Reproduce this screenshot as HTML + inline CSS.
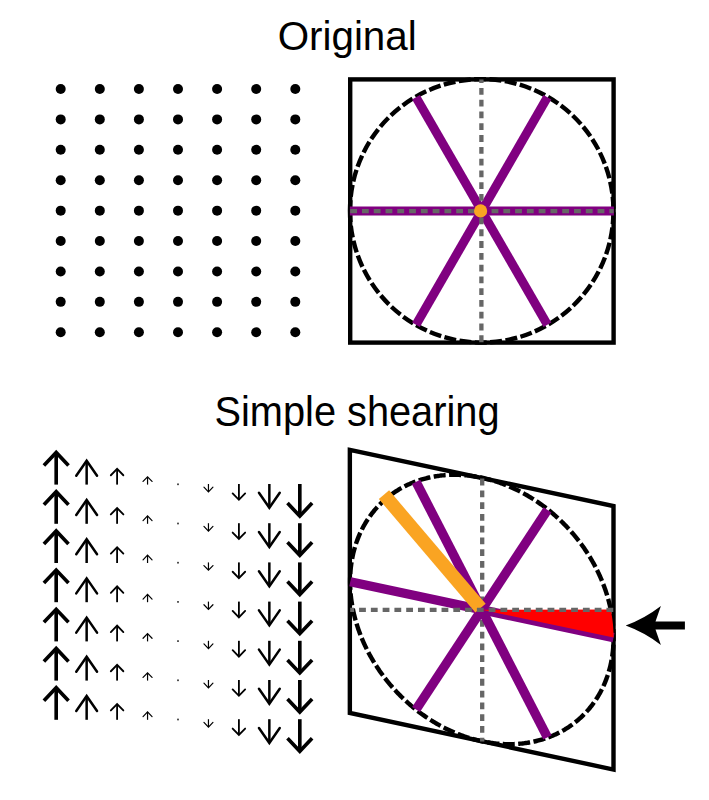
<!DOCTYPE html>
<html><head><meta charset="utf-8"><style>
html,body{margin:0;padding:0;background:#fff;}
body{width:709px;height:800px;overflow:hidden;position:relative;font-family:"Liberation Sans",sans-serif;}
svg{position:absolute;left:0;top:0;display:block;}
text{font-family:"Liberation Sans",sans-serif;}
</style></head><body>
<svg width="709" height="800" viewBox="0 0 709 800">
<text x="347.2" y="49.7" font-size="40" text-anchor="middle" fill="#000" textLength="139" lengthAdjust="spacingAndGlyphs">Original</text>
<text x="357" y="425.8" font-size="43" text-anchor="middle" fill="#000" textLength="285" lengthAdjust="spacingAndGlyphs">Simple shearing</text>
<g fill="#000"><circle cx="60.70" cy="89.00" r="5"/><circle cx="99.80" cy="89.00" r="5"/><circle cx="138.90" cy="89.00" r="5"/><circle cx="178.00" cy="89.00" r="5"/><circle cx="217.10" cy="89.00" r="5"/><circle cx="256.20" cy="89.00" r="5"/><circle cx="295.30" cy="89.00" r="5"/><circle cx="60.70" cy="119.41" r="5"/><circle cx="99.80" cy="119.41" r="5"/><circle cx="138.90" cy="119.41" r="5"/><circle cx="178.00" cy="119.41" r="5"/><circle cx="217.10" cy="119.41" r="5"/><circle cx="256.20" cy="119.41" r="5"/><circle cx="295.30" cy="119.41" r="5"/><circle cx="60.70" cy="149.82" r="5"/><circle cx="99.80" cy="149.82" r="5"/><circle cx="138.90" cy="149.82" r="5"/><circle cx="178.00" cy="149.82" r="5"/><circle cx="217.10" cy="149.82" r="5"/><circle cx="256.20" cy="149.82" r="5"/><circle cx="295.30" cy="149.82" r="5"/><circle cx="60.70" cy="180.23" r="5"/><circle cx="99.80" cy="180.23" r="5"/><circle cx="138.90" cy="180.23" r="5"/><circle cx="178.00" cy="180.23" r="5"/><circle cx="217.10" cy="180.23" r="5"/><circle cx="256.20" cy="180.23" r="5"/><circle cx="295.30" cy="180.23" r="5"/><circle cx="60.70" cy="210.64" r="5"/><circle cx="99.80" cy="210.64" r="5"/><circle cx="138.90" cy="210.64" r="5"/><circle cx="178.00" cy="210.64" r="5"/><circle cx="217.10" cy="210.64" r="5"/><circle cx="256.20" cy="210.64" r="5"/><circle cx="295.30" cy="210.64" r="5"/><circle cx="60.70" cy="241.05" r="5"/><circle cx="99.80" cy="241.05" r="5"/><circle cx="138.90" cy="241.05" r="5"/><circle cx="178.00" cy="241.05" r="5"/><circle cx="217.10" cy="241.05" r="5"/><circle cx="256.20" cy="241.05" r="5"/><circle cx="295.30" cy="241.05" r="5"/><circle cx="60.70" cy="271.46" r="5"/><circle cx="99.80" cy="271.46" r="5"/><circle cx="138.90" cy="271.46" r="5"/><circle cx="178.00" cy="271.46" r="5"/><circle cx="217.10" cy="271.46" r="5"/><circle cx="256.20" cy="271.46" r="5"/><circle cx="295.30" cy="271.46" r="5"/><circle cx="60.70" cy="301.87" r="5"/><circle cx="99.80" cy="301.87" r="5"/><circle cx="138.90" cy="301.87" r="5"/><circle cx="178.00" cy="301.87" r="5"/><circle cx="217.10" cy="301.87" r="5"/><circle cx="256.20" cy="301.87" r="5"/><circle cx="295.30" cy="301.87" r="5"/><circle cx="60.70" cy="332.28" r="5"/><circle cx="99.80" cy="332.28" r="5"/><circle cx="138.90" cy="332.28" r="5"/><circle cx="178.00" cy="332.28" r="5"/><circle cx="217.10" cy="332.28" r="5"/><circle cx="256.20" cy="332.28" r="5"/><circle cx="295.30" cy="332.28" r="5"/></g>
<g fill="none" stroke="#000"><path d="M56.20,484.60L56.20,453.96" stroke-width="3.66"/><path d="M43.90,465.50L56.20,452.50L68.50,465.50" stroke-width="3.66" stroke-linecap="butt" stroke-linejoin="miter"/><path d="M86.65,484.60L86.65,461.80" stroke-width="2.5"/><path d="M76.25,475.80L86.65,460.80L97.05,475.80" stroke-width="2.5" stroke-linecap="round" stroke-linejoin="miter"/><path d="M117.10,484.60L117.10,469.53" stroke-width="1.83"/><path d="M110.85,475.25L117.10,468.80L123.35,475.25" stroke-width="1.83" stroke-linecap="round" stroke-linejoin="miter"/><path d="M147.55,484.60L147.55,477.23" stroke-width="1.2"/><path d="M143.05,481.45L147.55,476.75L152.05,481.45" stroke-width="1.2" stroke-linecap="round" stroke-linejoin="miter"/><rect x="177.15" y="483.45" width="1.7" height="1.7" fill="#333" stroke="none"/><path d="M208.45,484.00L208.45,491.37" stroke-width="1.2"/><path d="M203.95,487.15L208.45,491.85L212.95,487.15" stroke-width="1.2" stroke-linecap="round" stroke-linejoin="miter"/><path d="M238.90,484.00L238.90,499.07" stroke-width="1.83"/><path d="M232.65,493.35L238.90,499.80L245.15,493.35" stroke-width="1.83" stroke-linecap="round" stroke-linejoin="miter"/><path d="M269.35,484.00L269.35,506.80" stroke-width="2.5"/><path d="M258.95,492.80L269.35,507.80L279.75,492.80" stroke-width="2.5" stroke-linecap="round" stroke-linejoin="miter"/><path d="M299.80,484.00L299.80,514.64" stroke-width="3.66"/><path d="M287.50,503.10L299.80,516.10L312.10,503.10" stroke-width="3.66" stroke-linecap="butt" stroke-linejoin="miter"/><path d="M56.20,523.80L56.20,493.16" stroke-width="3.66"/><path d="M43.90,504.70L56.20,491.70L68.50,504.70" stroke-width="3.66" stroke-linecap="butt" stroke-linejoin="miter"/><path d="M86.65,523.80L86.65,501.00" stroke-width="2.5"/><path d="M76.25,515.00L86.65,500.00L97.05,515.00" stroke-width="2.5" stroke-linecap="round" stroke-linejoin="miter"/><path d="M117.10,523.80L117.10,508.73" stroke-width="1.83"/><path d="M110.85,514.45L117.10,508.00L123.35,514.45" stroke-width="1.83" stroke-linecap="round" stroke-linejoin="miter"/><path d="M147.55,523.80L147.55,516.43" stroke-width="1.2"/><path d="M143.05,520.65L147.55,515.95L152.05,520.65" stroke-width="1.2" stroke-linecap="round" stroke-linejoin="miter"/><rect x="177.15" y="522.65" width="1.7" height="1.7" fill="#333" stroke="none"/><path d="M208.45,523.20L208.45,530.57" stroke-width="1.2"/><path d="M203.95,526.35L208.45,531.05L212.95,526.35" stroke-width="1.2" stroke-linecap="round" stroke-linejoin="miter"/><path d="M238.90,523.20L238.90,538.27" stroke-width="1.83"/><path d="M232.65,532.55L238.90,539.00L245.15,532.55" stroke-width="1.83" stroke-linecap="round" stroke-linejoin="miter"/><path d="M269.35,523.20L269.35,546.00" stroke-width="2.5"/><path d="M258.95,532.00L269.35,547.00L279.75,532.00" stroke-width="2.5" stroke-linecap="round" stroke-linejoin="miter"/><path d="M299.80,523.20L299.80,553.84" stroke-width="3.66"/><path d="M287.50,542.30L299.80,555.30L312.10,542.30" stroke-width="3.66" stroke-linecap="butt" stroke-linejoin="miter"/><path d="M56.20,563.00L56.20,532.36" stroke-width="3.66"/><path d="M43.90,543.90L56.20,530.90L68.50,543.90" stroke-width="3.66" stroke-linecap="butt" stroke-linejoin="miter"/><path d="M86.65,563.00L86.65,540.20" stroke-width="2.5"/><path d="M76.25,554.20L86.65,539.20L97.05,554.20" stroke-width="2.5" stroke-linecap="round" stroke-linejoin="miter"/><path d="M117.10,563.00L117.10,547.93" stroke-width="1.83"/><path d="M110.85,553.65L117.10,547.20L123.35,553.65" stroke-width="1.83" stroke-linecap="round" stroke-linejoin="miter"/><path d="M147.55,563.00L147.55,555.63" stroke-width="1.2"/><path d="M143.05,559.85L147.55,555.15L152.05,559.85" stroke-width="1.2" stroke-linecap="round" stroke-linejoin="miter"/><rect x="177.15" y="561.85" width="1.7" height="1.7" fill="#333" stroke="none"/><path d="M208.45,562.40L208.45,569.77" stroke-width="1.2"/><path d="M203.95,565.55L208.45,570.25L212.95,565.55" stroke-width="1.2" stroke-linecap="round" stroke-linejoin="miter"/><path d="M238.90,562.40L238.90,577.47" stroke-width="1.83"/><path d="M232.65,571.75L238.90,578.20L245.15,571.75" stroke-width="1.83" stroke-linecap="round" stroke-linejoin="miter"/><path d="M269.35,562.40L269.35,585.20" stroke-width="2.5"/><path d="M258.95,571.20L269.35,586.20L279.75,571.20" stroke-width="2.5" stroke-linecap="round" stroke-linejoin="miter"/><path d="M299.80,562.40L299.80,593.04" stroke-width="3.66"/><path d="M287.50,581.50L299.80,594.50L312.10,581.50" stroke-width="3.66" stroke-linecap="butt" stroke-linejoin="miter"/><path d="M56.20,602.20L56.20,571.56" stroke-width="3.66"/><path d="M43.90,583.10L56.20,570.10L68.50,583.10" stroke-width="3.66" stroke-linecap="butt" stroke-linejoin="miter"/><path d="M86.65,602.20L86.65,579.40" stroke-width="2.5"/><path d="M76.25,593.40L86.65,578.40L97.05,593.40" stroke-width="2.5" stroke-linecap="round" stroke-linejoin="miter"/><path d="M117.10,602.20L117.10,587.13" stroke-width="1.83"/><path d="M110.85,592.85L117.10,586.40L123.35,592.85" stroke-width="1.83" stroke-linecap="round" stroke-linejoin="miter"/><path d="M147.55,602.20L147.55,594.83" stroke-width="1.2"/><path d="M143.05,599.05L147.55,594.35L152.05,599.05" stroke-width="1.2" stroke-linecap="round" stroke-linejoin="miter"/><rect x="177.15" y="601.05" width="1.7" height="1.7" fill="#333" stroke="none"/><path d="M208.45,601.60L208.45,608.97" stroke-width="1.2"/><path d="M203.95,604.75L208.45,609.45L212.95,604.75" stroke-width="1.2" stroke-linecap="round" stroke-linejoin="miter"/><path d="M238.90,601.60L238.90,616.67" stroke-width="1.83"/><path d="M232.65,610.95L238.90,617.40L245.15,610.95" stroke-width="1.83" stroke-linecap="round" stroke-linejoin="miter"/><path d="M269.35,601.60L269.35,624.40" stroke-width="2.5"/><path d="M258.95,610.40L269.35,625.40L279.75,610.40" stroke-width="2.5" stroke-linecap="round" stroke-linejoin="miter"/><path d="M299.80,601.60L299.80,632.24" stroke-width="3.66"/><path d="M287.50,620.70L299.80,633.70L312.10,620.70" stroke-width="3.66" stroke-linecap="butt" stroke-linejoin="miter"/><path d="M56.20,641.40L56.20,610.76" stroke-width="3.66"/><path d="M43.90,622.30L56.20,609.30L68.50,622.30" stroke-width="3.66" stroke-linecap="butt" stroke-linejoin="miter"/><path d="M86.65,641.40L86.65,618.60" stroke-width="2.5"/><path d="M76.25,632.60L86.65,617.60L97.05,632.60" stroke-width="2.5" stroke-linecap="round" stroke-linejoin="miter"/><path d="M117.10,641.40L117.10,626.33" stroke-width="1.83"/><path d="M110.85,632.05L117.10,625.60L123.35,632.05" stroke-width="1.83" stroke-linecap="round" stroke-linejoin="miter"/><path d="M147.55,641.40L147.55,634.03" stroke-width="1.2"/><path d="M143.05,638.25L147.55,633.55L152.05,638.25" stroke-width="1.2" stroke-linecap="round" stroke-linejoin="miter"/><rect x="177.15" y="640.25" width="1.7" height="1.7" fill="#333" stroke="none"/><path d="M208.45,640.80L208.45,648.17" stroke-width="1.2"/><path d="M203.95,643.95L208.45,648.65L212.95,643.95" stroke-width="1.2" stroke-linecap="round" stroke-linejoin="miter"/><path d="M238.90,640.80L238.90,655.87" stroke-width="1.83"/><path d="M232.65,650.15L238.90,656.60L245.15,650.15" stroke-width="1.83" stroke-linecap="round" stroke-linejoin="miter"/><path d="M269.35,640.80L269.35,663.60" stroke-width="2.5"/><path d="M258.95,649.60L269.35,664.60L279.75,649.60" stroke-width="2.5" stroke-linecap="round" stroke-linejoin="miter"/><path d="M299.80,640.80L299.80,671.44" stroke-width="3.66"/><path d="M287.50,659.90L299.80,672.90L312.10,659.90" stroke-width="3.66" stroke-linecap="butt" stroke-linejoin="miter"/><path d="M56.20,680.60L56.20,649.96" stroke-width="3.66"/><path d="M43.90,661.50L56.20,648.50L68.50,661.50" stroke-width="3.66" stroke-linecap="butt" stroke-linejoin="miter"/><path d="M86.65,680.60L86.65,657.80" stroke-width="2.5"/><path d="M76.25,671.80L86.65,656.80L97.05,671.80" stroke-width="2.5" stroke-linecap="round" stroke-linejoin="miter"/><path d="M117.10,680.60L117.10,665.53" stroke-width="1.83"/><path d="M110.85,671.25L117.10,664.80L123.35,671.25" stroke-width="1.83" stroke-linecap="round" stroke-linejoin="miter"/><path d="M147.55,680.60L147.55,673.23" stroke-width="1.2"/><path d="M143.05,677.45L147.55,672.75L152.05,677.45" stroke-width="1.2" stroke-linecap="round" stroke-linejoin="miter"/><rect x="177.15" y="679.45" width="1.7" height="1.7" fill="#333" stroke="none"/><path d="M208.45,680.00L208.45,687.37" stroke-width="1.2"/><path d="M203.95,683.15L208.45,687.85L212.95,683.15" stroke-width="1.2" stroke-linecap="round" stroke-linejoin="miter"/><path d="M238.90,680.00L238.90,695.07" stroke-width="1.83"/><path d="M232.65,689.35L238.90,695.80L245.15,689.35" stroke-width="1.83" stroke-linecap="round" stroke-linejoin="miter"/><path d="M269.35,680.00L269.35,702.80" stroke-width="2.5"/><path d="M258.95,688.80L269.35,703.80L279.75,688.80" stroke-width="2.5" stroke-linecap="round" stroke-linejoin="miter"/><path d="M299.80,680.00L299.80,710.64" stroke-width="3.66"/><path d="M287.50,699.10L299.80,712.10L312.10,699.10" stroke-width="3.66" stroke-linecap="butt" stroke-linejoin="miter"/><path d="M56.20,719.80L56.20,689.16" stroke-width="3.66"/><path d="M43.90,700.70L56.20,687.70L68.50,700.70" stroke-width="3.66" stroke-linecap="butt" stroke-linejoin="miter"/><path d="M86.65,719.80L86.65,697.00" stroke-width="2.5"/><path d="M76.25,711.00L86.65,696.00L97.05,711.00" stroke-width="2.5" stroke-linecap="round" stroke-linejoin="miter"/><path d="M117.10,719.80L117.10,704.73" stroke-width="1.83"/><path d="M110.85,710.45L117.10,704.00L123.35,710.45" stroke-width="1.83" stroke-linecap="round" stroke-linejoin="miter"/><path d="M147.55,719.80L147.55,712.43" stroke-width="1.2"/><path d="M143.05,716.65L147.55,711.95L152.05,716.65" stroke-width="1.2" stroke-linecap="round" stroke-linejoin="miter"/><rect x="177.15" y="718.65" width="1.7" height="1.7" fill="#333" stroke="none"/><path d="M208.45,719.20L208.45,726.57" stroke-width="1.2"/><path d="M203.95,722.35L208.45,727.05L212.95,722.35" stroke-width="1.2" stroke-linecap="round" stroke-linejoin="miter"/><path d="M238.90,719.20L238.90,734.27" stroke-width="1.83"/><path d="M232.65,728.55L238.90,735.00L245.15,728.55" stroke-width="1.83" stroke-linecap="round" stroke-linejoin="miter"/><path d="M269.35,719.20L269.35,742.00" stroke-width="2.5"/><path d="M258.95,728.00L269.35,743.00L279.75,728.00" stroke-width="2.5" stroke-linecap="round" stroke-linejoin="miter"/><path d="M299.80,719.20L299.80,749.84" stroke-width="3.66"/><path d="M287.50,738.30L299.80,751.30L312.10,738.30" stroke-width="3.66" stroke-linecap="butt" stroke-linejoin="miter"/></g>
<rect x="350.2" y="79.4" width="263.4" height="263.2" fill="none" stroke="#000" stroke-width="4.4"/>
<path d="M349.97,210.83A131.75,131.75 0 0 1 613.47,210.83A131.75,131.75 0 0 1 349.97,210.83" fill="none" stroke="#000" stroke-width="4.4" stroke-dasharray="11.99 3.43" stroke-dashoffset="1.22"/>
<g stroke="#800080" stroke-width="9"><line x1="349.9" y1="210.95" x2="613.9" y2="210.95"/><line x1="416.00" y1="97.15" x2="547.40" y2="324.75"/><line x1="547.40" y1="97.15" x2="416.00" y2="324.75"/></g>
<g stroke="#666666" stroke-width="4.3" stroke-dasharray="6.8 4.98"><line x1="481.4" y1="79.6" x2="481.4" y2="342.6" stroke-dashoffset="3.4"/><line x1="350.2" y1="211.05" x2="613.6" y2="211.05"/></g>
<circle cx="480.6" cy="210.9" r="6.6" fill="#faa422"/>
<path d="M349.85,449.9L613.5,506.1L613.5,769.55L349.85,713.0Z" fill="none" stroke="#000" stroke-width="4.4" stroke-linejoin="miter"/>
<path d="M350.09,581.50L350.10,580.35L350.11,579.20L350.14,578.06L350.17,576.91L350.22,575.78L350.27,574.64L350.34,573.50L350.41,572.37L350.50,571.25L350.59,570.12L350.70,569.00L350.81,567.88L350.94,566.76L351.07,565.65L351.22,564.54L351.37,563.43L351.54,562.33L351.71,561.23L351.90,560.13L352.09,559.04L352.30,557.96L352.51,556.87L352.73,555.79L352.97,554.72L353.21,553.64L353.47,552.58L353.73,551.51L354.00,550.45L354.29,549.40L354.58,548.35L354.88,547.31L355.19,546.27L355.52,545.23L355.85,544.20L356.19,543.17L356.54,542.15L356.90,541.14L357.27,540.13L357.65,539.12L358.04,538.12L358.43,537.13L358.84,536.14L359.26,535.16L359.68,534.18L360.12,533.21L360.56,532.24L361.02,531.28L361.48,530.33L361.95,529.38L362.43,528.44L362.92,527.50L363.42,526.57L363.93,525.65L364.45,524.73L364.98,523.82L365.51,522.92L366.06,522.02L366.61,521.13L367.17,520.25L367.74,519.37L368.32,518.50L368.91,517.64L369.50,516.78L370.11,515.93L370.72,515.09L371.35,514.26L371.98,513.43L372.61,512.61L373.26,511.80L373.92,510.99L374.58,510.19L375.25,509.40L375.93,508.62L376.62,507.85L377.32,507.08L378.02,506.32L378.73,505.57L379.45,504.82L380.18,504.09L380.91,503.36L381.66,502.64L382.41,501.93L383.17,501.23L383.93,500.53L384.70,499.84L385.48,499.17L386.27,498.50L387.07,497.83L387.87,497.18L388.68,496.54L389.50,495.90L390.32,495.27L391.15,494.66L391.99,494.05L392.83,493.44L393.68,492.85L394.54,492.27L395.40,491.69L396.28,491.13L397.15,490.57L398.04,490.03L398.93,489.49L399.82,488.96L400.73,488.44L401.64,487.93L402.55,487.43L403.47,486.93L404.40,486.45L405.33,485.98L406.27,485.51L407.22,485.06L408.17,484.61L409.12,484.18L410.08,483.75L411.05,483.34L412.02,482.93L413.00,482.53L413.98,482.14L414.97,481.77L415.96,481.40L416.96,481.04L417.97,480.69L418.97,480.35L419.99,480.02L421.00,479.71L422.03,479.40L423.05,479.10L424.08,478.81L425.12,478.53L426.16,478.26L427.20,478.00L428.25,477.75L429.30,477.51L430.36,477.28L431.42,477.06L432.49,476.85L433.55,476.65L434.63,476.46L435.70,476.29L436.78,476.12L437.86,475.96L438.95,475.81L440.04,475.67L441.13,475.54L442.22,475.43L443.32,475.32L444.42,475.22L445.52,475.13L446.63,475.06L447.74,474.99L448.85,474.93L449.97,474.89L451.08,474.85L452.20,474.83L453.32,474.81L454.45,474.81L455.57,474.81L456.70,474.83L457.83,474.85L458.96,474.89L460.09,474.93L461.23,474.99L462.37,475.06L463.50,475.13L464.64,475.22L465.78,475.32L466.93,475.43L468.07,475.54L469.21,475.67L470.36,475.81L471.50,475.96L472.65,476.12L473.80,476.29L474.94,476.46L476.09,476.65L477.24,476.85L478.39,477.06L479.54,477.28L480.69,477.51L481.84,477.75L482.99,478.00L484.14,478.26L485.29,478.53L486.44,478.81L487.59,479.10L488.74,479.40L489.88,479.71L491.03,480.02L492.18,480.35L493.32,480.69L494.47,481.04L495.61,481.40L496.75,481.77L497.90,482.14L499.04,482.53L500.18,482.93L501.31,483.34L502.45,483.75L503.59,484.18L504.72,484.61L505.85,485.06L506.98,485.51L508.11,485.98L509.23,486.45L510.36,486.93L511.48,487.43L512.60,487.93L513.71,488.44L514.83,488.96L515.94,489.49L517.05,490.03L518.16,490.57L519.26,491.13L520.36,491.69L521.46,492.27L522.55,492.85L523.64,493.44L524.73,494.05L525.82,494.66L526.90,495.27L527.98,495.90L529.05,496.54L530.13,497.18L531.19,497.83L532.26,498.50L533.32,499.17L534.38,499.84L535.43,500.53L536.48,501.23L537.52,501.93L538.56,502.64L539.60,503.36L540.63,504.09L541.65,504.82L542.68,505.57L543.69,506.32L544.71,507.08L545.71,507.85L546.72,508.62L547.71,509.40L548.71,510.19L549.70,510.99L550.68,511.80L551.66,512.61L552.63,513.43L553.60,514.26L554.56,515.09L555.51,515.93L556.46,516.78L557.41,517.64L558.35,518.50L559.28,519.37L560.21,520.25L561.13,521.13L562.04,522.02L562.95,522.92L563.86,523.82L564.75,524.73L565.64,525.65L566.53,526.57L567.40,527.50L568.28,528.44L569.14,529.38L570.00,530.33L570.85,531.28L571.69,532.24L572.53,533.21L573.36,534.18L574.18,535.16L575.00,536.14L575.81,537.13L576.61,538.12L577.41,539.12L578.20,540.13L578.98,541.14L579.75,542.15L580.51,543.17L581.27,544.20L582.02,545.23L582.77,546.27L583.50,547.31L584.23,548.35L584.95,549.40L585.66,550.45L586.36,551.51L587.06,552.58L587.75,553.64L588.43,554.72L589.10,555.79L589.76,556.87L590.42,557.96L591.07,559.04L591.70,560.13L592.33,561.23L592.96,562.33L593.57,563.43L594.18,564.54L594.77,565.65L595.36,566.76L595.94,567.88L596.51,569.00L597.07,570.12L597.62,571.25L598.17,572.37L598.70,573.50L599.23,574.64L599.75,575.78L600.26,576.91L600.76,578.06L601.25,579.20L601.73,580.35L602.20,581.50L602.66,582.65L603.12,583.80L603.56,584.95L604.00,586.11L604.42,587.27L604.84,588.43L605.25,589.59L605.64,590.75L606.03,591.92L606.41,593.09L606.78,594.25L607.14,595.42L607.49,596.59L607.83,597.76L608.16,598.93L608.49,600.10L608.80,601.28L609.10,602.45L609.39,603.62L609.68,604.80L609.95,605.97L610.21,607.15L610.47,608.32L610.71,609.50L610.95,610.68L611.17,611.85L611.38,613.03L611.59,614.20L611.78,615.38L611.97,616.55L612.14,617.72L612.31,618.90L612.46,620.07L612.61,621.24L612.74,622.41L612.87,623.58L612.98,624.75L613.09,625.91L613.18,627.08L613.27,628.25L613.34,629.41L613.41,630.57L613.46,631.73L613.51,632.89L613.54,634.05L613.57,635.20L613.58,636.35L613.59,637.50L613.58,638.65L613.57,639.80L613.54,640.94L613.51,642.09L613.46,643.22L613.41,644.36L613.34,645.50L613.27,646.63L613.18,647.75L613.09,648.88L612.98,650.00L612.87,651.12L612.74,652.24L612.61,653.35L612.46,654.46L612.31,655.57L612.14,656.67L611.97,657.77L611.78,658.87L611.59,659.96L611.38,661.04L611.17,662.13L610.95,663.21L610.71,664.28L610.47,665.36L610.21,666.42L609.95,667.49L609.68,668.55L609.39,669.60L609.10,670.65L608.80,671.69L608.49,672.73L608.16,673.77L607.83,674.80L607.49,675.83L607.14,676.85L606.78,677.86L606.41,678.87L606.03,679.88L605.64,680.88L605.25,681.87L604.84,682.86L604.42,683.84L604.00,684.82L603.56,685.79L603.12,686.76L602.66,687.72L602.20,688.67L601.73,689.62L601.25,690.56L600.76,691.50L600.26,692.43L599.75,693.35L599.23,694.27L598.70,695.18L598.17,696.08L597.62,696.98L597.07,697.87L596.51,698.75L595.94,699.63L595.36,700.50L594.77,701.36L594.18,702.22L593.57,703.07L592.96,703.91L592.33,704.74L591.70,705.57L591.07,706.39L590.42,707.20L589.76,708.01L589.10,708.81L588.43,709.60L587.75,710.38L587.06,711.15L586.36,711.92L585.66,712.68L584.95,713.43L584.23,714.18L583.50,714.91L582.77,715.64L582.02,716.36L581.27,717.07L580.51,717.77L579.75,718.47L578.98,719.16L578.20,719.83L577.41,720.50L576.61,721.17L575.81,721.82L575.00,722.46L574.18,723.10L573.36,723.73L572.53,724.34L571.69,724.95L570.85,725.56L570.00,726.15L569.14,726.73L568.28,727.31L567.40,727.87L566.53,728.43L565.64,728.97L564.75,729.51L563.86,730.04L562.95,730.56L562.04,731.07L561.13,731.57L560.21,732.07L559.28,732.55L558.35,733.02L557.41,733.49L556.46,733.94L555.51,734.39L554.56,734.82L553.60,735.25L552.63,735.66L551.66,736.07L550.68,736.47L549.70,736.86L548.71,737.23L547.72,737.60L546.72,737.96L545.71,738.31L544.71,738.65L543.69,738.98L542.68,739.29L541.65,739.60L540.63,739.90L539.60,740.19L538.56,740.47L537.52,740.74L536.48,741.00L535.43,741.25L534.38,741.49L533.32,741.72L532.26,741.94L531.19,742.15L530.13,742.35L529.05,742.54L527.98,742.71L526.90,742.88L525.82,743.04L524.73,743.19L523.64,743.33L522.55,743.46L521.46,743.57L520.36,743.68L519.26,743.78L518.16,743.87L517.05,743.94L515.94,744.01L514.83,744.07L513.71,744.11L512.60,744.15L511.48,744.17L510.36,744.19L509.23,744.19L508.11,744.19L506.98,744.17L505.85,744.15L504.72,744.11L503.59,744.07L502.45,744.01L501.31,743.94L500.18,743.87L499.04,743.78L497.90,743.68L496.75,743.57L495.61,743.46L494.47,743.33L493.32,743.19L492.18,743.04L491.03,742.88L489.88,742.71L488.74,742.54L487.59,742.35L486.44,742.15L485.29,741.94L484.14,741.72L482.99,741.49L481.84,741.25L480.69,741.00L479.54,740.74L478.39,740.47L477.24,740.19L476.09,739.90L474.94,739.60L473.80,739.29L472.65,738.98L471.50,738.65L470.36,738.31L469.21,737.96L468.07,737.60L466.93,737.23L465.78,736.86L464.64,736.47L463.50,736.07L462.37,735.66L461.23,735.25L460.09,734.82L458.96,734.39L457.83,733.94L456.70,733.49L455.57,733.02L454.45,732.55L453.32,732.07L452.20,731.57L451.08,731.07L449.97,730.56L448.85,730.04L447.74,729.51L446.63,728.97L445.52,728.43L444.42,727.87L443.32,727.31L442.22,726.73L441.13,726.15L440.04,725.56L438.95,724.95L437.86,724.34L436.78,723.73L435.70,723.10L434.63,722.46L433.55,721.82L432.49,721.17L431.42,720.50L430.36,719.83L429.30,719.16L428.25,718.47L427.20,717.77L426.16,717.07L425.12,716.36L424.08,715.64L423.05,714.91L422.03,714.18L421.00,713.43L419.99,712.68L418.97,711.92L417.97,711.15L416.96,710.38L415.96,709.60L414.97,708.81L413.98,708.01L413.00,707.20L412.02,706.39L411.05,705.57L410.08,704.74L409.12,703.91L408.17,703.07L407.22,702.22L406.27,701.36L405.33,700.50L404.40,699.63L403.47,698.75L402.55,697.87L401.64,696.98L400.73,696.08L399.82,695.18L398.93,694.27L398.04,693.35L397.15,692.43L396.28,691.50L395.40,690.56L394.54,689.62L393.68,688.67L392.83,687.72L391.99,686.76L391.15,685.79L390.32,684.82L389.50,683.84L388.68,682.86L387.87,681.87L387.07,680.88L386.27,679.88L385.48,678.87L384.70,677.86L383.93,676.85L383.17,675.83L382.41,674.80L381.66,673.77L380.91,672.73L380.18,671.69L379.45,670.65L378.73,669.60L378.02,668.55L377.32,667.49L376.62,666.42L375.93,665.36L375.25,664.28L374.58,663.21L373.92,662.13L373.26,661.04L372.61,659.96L371.98,658.87L371.35,657.77L370.72,656.67L370.11,655.57L369.50,654.46L368.91,653.35L368.32,652.24L367.74,651.12L367.17,650.00L366.61,648.88L366.06,647.75L365.51,646.63L364.98,645.50L364.45,644.36L363.93,643.22L363.42,642.09L362.92,640.94L362.43,639.80L361.95,638.65L361.48,637.50L361.02,636.35L360.56,635.20L360.12,634.05L359.68,632.89L359.26,631.73L358.84,630.57L358.43,629.41L358.04,628.25L357.65,627.08L357.27,625.91L356.90,624.75L356.54,623.58L356.19,622.41L355.85,621.24L355.52,620.07L355.19,618.90L354.88,617.72L354.58,616.55L354.29,615.38L354.00,614.20L353.73,613.03L353.47,611.85L353.21,610.68L352.97,609.50L352.73,608.32L352.51,607.15L352.30,605.97L352.09,604.80L351.90,603.62L351.71,602.45L351.54,601.28L351.37,600.10L351.22,598.93L351.07,597.76L350.94,596.59L350.81,595.42L350.70,594.25L350.59,593.09L350.50,591.92L350.41,590.75L350.34,589.59L350.27,588.43L350.22,587.27L350.17,586.11L350.14,584.95L350.11,583.80L350.10,582.65L350.09,581.50" fill="none" stroke="#000" stroke-width="4.4" stroke-dasharray="12.02 3.434" stroke-dashoffset="8.17"/>
<line x1="482.2" y1="478.6" x2="482.2" y2="741.4" stroke="#666666" stroke-width="4.3" stroke-dasharray="6.8 4.98"/>
<g stroke="#800080" stroke-width="9.4"><line x1="350.25" y1="581.75" x2="613.55" y2="637.71"/><line x1="416.05" y1="481.94" x2="547.45" y2="737.46"/><line x1="547.45" y1="509.87" x2="416.05" y2="709.53"/></g>
<path d="M481.75,609.70L610.71,609.50L610.99,610.91L611.26,612.32L611.51,613.73L611.74,615.14L611.97,616.55L612.18,617.96L612.37,619.36L612.55,620.77L612.72,622.18L612.87,623.58L613.01,624.98L613.13,626.38L613.24,627.78L613.33,629.18L613.41,630.57L613.47,631.96L613.52,633.35L613.56,634.74L613.58,636.12L613.59,637.50Z" fill="#ff0000"/>
<line x1="480.5" y1="608.2" x2="384.0" y2="494.7" stroke="#faa422" stroke-width="13.5"/>
<line x1="350.2" y1="609.85" x2="613.6" y2="609.85" stroke="#666666" stroke-width="4.3" stroke-dasharray="6.8 4.98" stroke-dashoffset="2.9"/>
<path d="M625.7,625.5Q644.6,618.6 660.9,606.0L655.5,621.6L684.9,621.6L684.9,629.6L655.5,629.6L660.9,644.9Q644.6,632.4 625.7,625.5Z" fill="#000"/>
</svg>
</body></html>
